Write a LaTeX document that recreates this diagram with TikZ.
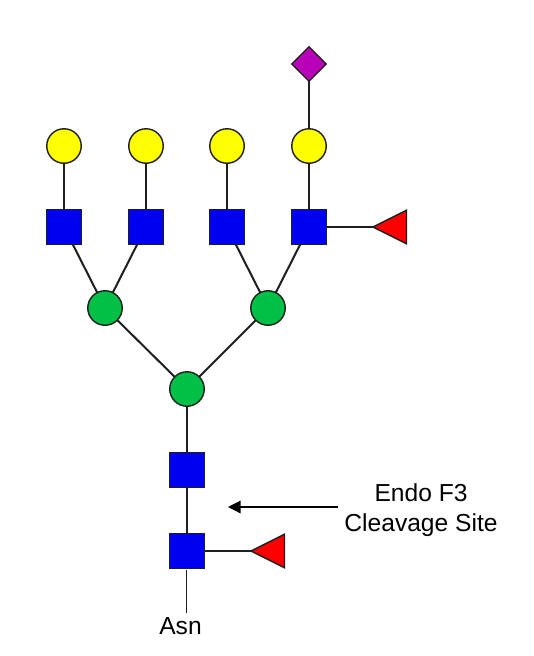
\documentclass[tikz,border=0pt]{standalone}
\usepackage{fontspec}
\setmainfont{Liberation Sans}
\usetikzlibrary{shapes.geometric,arrows.meta}
\definecolor{glcblue}{RGB}{0,0,240}
\definecolor{glcyellow}{RGB}{255,255,0}
\definecolor{glcgreen}{RGB}{0,192,70}
\definecolor{glcred}{RGB}{255,0,0}
\definecolor{glcpurple}{RGB}{185,0,185}
\definecolor{inkdark}{RGB}{30,30,30}
\tikzset{
  x=1pt,y=-1pt,
  glyc/.style={draw=inkdark,line width=1.4pt,inner sep=0pt,outer sep=0pt},
  glcnac/.style={glyc,rectangle,fill=glcblue,minimum size=34.5pt},
  gal/.style={glyc,circle,fill=glcyellow,minimum size=34.5pt},
  man/.style={glyc,circle,fill=glcgreen,minimum size=34.5pt},
  sia/.style={glyc,diamond,aspect=1,fill=glcpurple,minimum size=34.5pt},
  fuc/.style={glyc,isosceles triangle,isosceles triangle stretches=true,shape border rotate=180,
     fill=glcred,minimum height=33.5pt,minimum width=33.5pt,anchor=apex},
  bond/.style={draw=inkdark,line width=2pt},
  thinbond/.style={draw=inkdark,line width=1.3pt},
  lab/.style={font=\fontsize{24.6}{29.5}\selectfont,text=black,inner sep=0pt,align=center},
  pointer/.style={draw=black,line width=1.2pt,-{Triangle[length=12.5pt,width=12.5pt]}}
}
\begin{document}
\begin{tikzpicture}
\useasboundingbox (0,0) rectangle (534,656);
\node[sia] (s) at (309,64) {};
\node[gal] (g1) at (64,146) {};
\node[gal] (g2) at (146,146) {};
\node[gal] (g3) at (227,146) {};
\node[gal] (g4) at (309,146) {};
\node[glcnac] (n1) at (64,227) {};
\node[glcnac] (n2) at (146,227) {};
\node[glcnac] (n3) at (227,227) {};
\node[glcnac] (n4) at (309,227) {};
\node[fuc] (f1) at (373,227) {};
\node[man] (m1) at (105,308) {};
\node[man] (m2) at (268,308) {};
\node[man] (m3) at (187,389) {};
\node[glcnac] (n5) at (187,470) {};
\node[glcnac] (n6) at (187,551) {};
\node[fuc] (f2) at (251,551) {};
\node[lab,anchor=base] (asn) at (180.5,634) {Asn};
\coordinate (asnstart) at (186.5,570);
\coordinate (asnend) at (186.5,613);
\node[lab,anchor=base] (endo) at (421,501) {Endo F3};
\node[lab,anchor=base] (cleave) at (421,531) {Cleavage Site};
\coordinate (arrowstart) at (338,507);
\coordinate (arrowend) at (228,507);
\draw[bond] (s) -- (g4);
\draw[bond] (g1) -- (n1);
\draw[bond] (g2) -- (n2);
\draw[bond] (g3) -- (n3);
\draw[bond] (g4) -- (n4);
\draw[bond] (n4) -- (f1.apex);
\draw[bond] (n1) -- (m1);
\draw[bond] (n2) -- (m1);
\draw[bond] (n3) -- (m2);
\draw[bond] (n4) -- (m2);
\draw[bond] (m1) -- (m3);
\draw[bond] (m2) -- (m3);
\draw[bond] (m3) -- (n5);
\draw[bond] (n5) -- (n6);
\draw[bond] (n6) -- (f2.apex);
\draw[thinbond] (asnstart) -- (asnend);
\draw[pointer] (arrowstart) -- (arrowend);
\end{tikzpicture}
\end{document}
